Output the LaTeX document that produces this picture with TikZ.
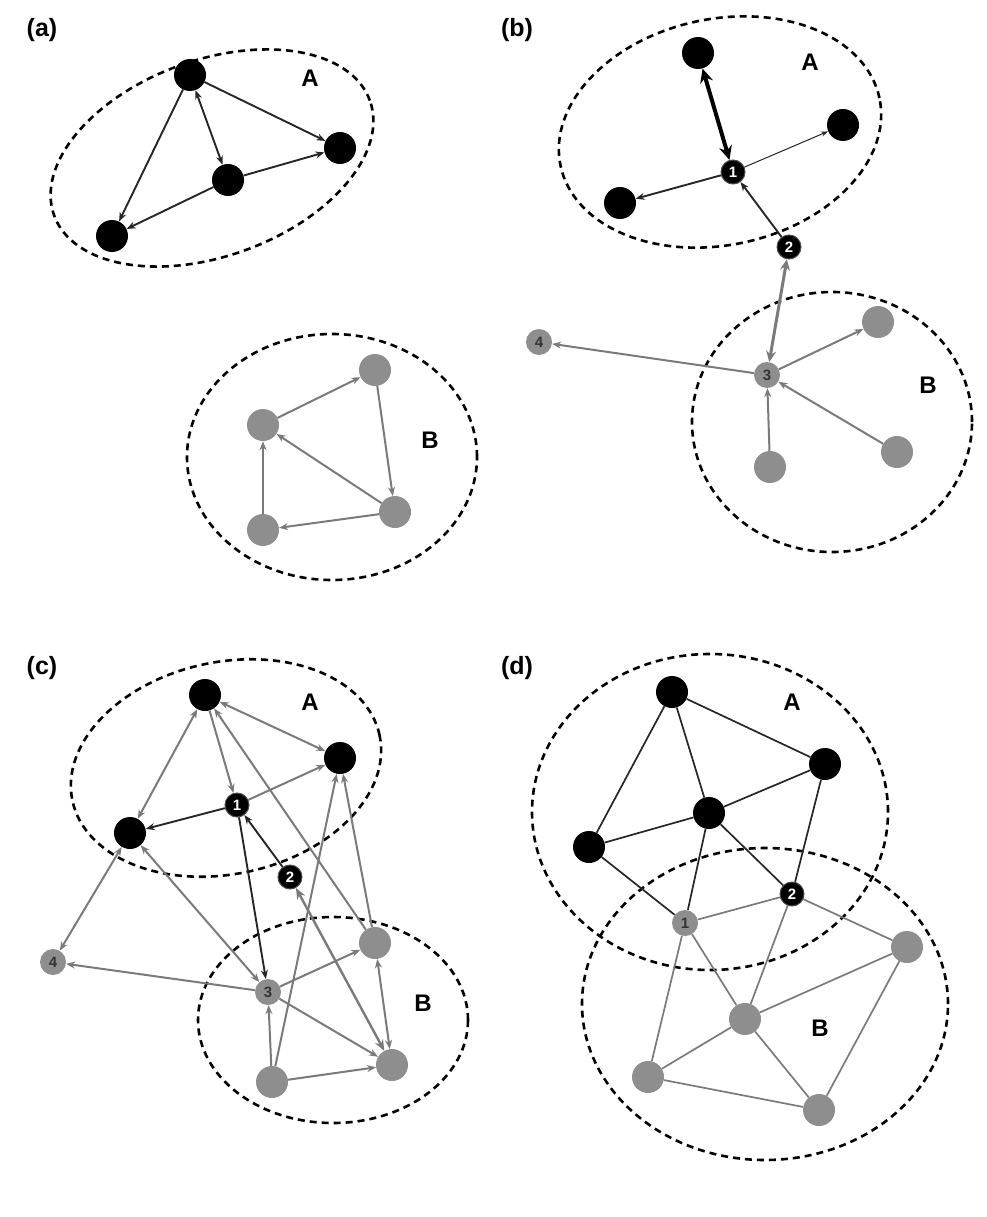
\documentclass[tikz,border=0pt]{standalone}
\usepackage{fontspec}
\setmainfont{Liberation Sans}
\usetikzlibrary{arrows.meta}
\definecolor{gn}{HTML}{8E8E8E}
\definecolor{ge}{HTML}{7A7A7A}
\begin{document}
\begin{tikzpicture}[x=1pt,y=-1pt,
 bk/.style={circle,fill=black,inner sep=0pt,minimum size=32pt},
 gy/.style={circle,fill=gn,inner sep=0pt,minimum size=32pt},
 bkn/.style={circle,fill=black,draw=black!70,line width=1pt,inner sep=0pt,minimum size=24pt,text=white,font=\bfseries\fontsize{15}{15}\selectfont},
 gyn/.style={circle,fill=gn,inner sep=0pt,minimum size=26pt,text=black!80,font=\bfseries\fontsize{15}{15}\selectfont},
 grp/.style={draw,dashed,dash pattern=on 7pt off 5pt,line width=2.6pt},
 lab/.style={font=\bfseries\fontsize{25}{25}\selectfont},
 glab/.style={font=\bfseries\fontsize{24}{24}\selectfont},
 ea/.style={line width=1.9pt,black!85,-{Stealth[length=9pt,width=7pt]}},
 eab/.style={line width=1.9pt,black!85,{Stealth[length=9pt,width=7pt]}-{Stealth[length=9pt,width=7pt]}},
 ga/.style={line width=2pt,ge,-{Stealth[length=9pt,width=7pt]}},
 gab/.style={line width=2pt,ge,{Stealth[length=9pt,width=7pt]}-{Stealth[length=9pt,width=7pt]}},
 el/.style={line width=1.7pt,black!85},
 gl/.style={line width=1.7pt,ge}]
\useasboundingbox (0,0) rectangle (986,1217);
% labels
\node[lab] (la) at (42,30) {(a)};
\node[lab] (lb) at (517,30) {(b)};
\node[lab] (lc) at (42,668) {(c)};
\node[lab] (ld) at (517,668) {(d)};
% ---------------- (a)
\draw[grp,rotate around={20:(212,158)}] (212,158) ellipse (168pt and 98pt);
\draw[grp] (332,457) ellipse (145pt and 123pt);
\node[glab] (aA) at (310,78) {A};
\node[glab] (aB) at (430,440) {B};
\node[bk] (a1) at (190,75) {};
\node[bk] (a2) at (340,148) {};
\node[bk] (a3) at (228,180) {};
\node[bk] (a4) at (112,236) {};
\draw[ea] (a1) -- (a2);
\draw[ea] (a1) -- (a4);
\draw[eab] (a1) -- (a3);
\draw[ea] (a3) -- (a2);
\draw[ea] (a3) -- (a4);
\node[gy] (b1) at (375,370) {};
\node[gy] (b2) at (263,425) {};
\node[gy] (b3) at (395,512) {};
\node[gy] (b4) at (263,530) {};
\draw[ga] (b2) -- (b1);
\draw[ga] (b1) -- (b3);
\draw[ga] (b3) -- (b2);
\draw[ga] (b3) -- (b4);
\draw[ga] (b4) -- (b2);
% ---------------- (b)
\draw[grp,rotate around={12:(720,132)}] (720,132) ellipse (163pt and 113pt);
\draw[grp] (832,422) ellipse (140pt and 130pt);
\node[glab] (bA) at (810,62) {A};
\node[glab] (bB) at (928,385) {B};
\node[bk] (c1) at (698,53) {};
\node[bk] (c2) at (843,125) {};
\node[bkn] (c3) at (733,172) {1};
\node[bk] (c4) at (620,203) {};
\node[bkn] (c5) at (789,247) {2};
\node[gyn] (c6) at (539,342) {4};
\node[gyn] (c7) at (767,375) {3};
\node[gy] (c8) at (878,322) {};
\node[gy] (c9) at (770,467) {};
\node[gy] (c10) at (897,452) {};
\draw[line width=4pt,black,{Stealth[length=14pt,width=13pt]}-{Stealth[length=14pt,width=13pt]}] (c1) -- (c3);
\draw[line width=1pt,black!85,-{Stealth[length=7pt,width=5pt]}] (c3) -- (c2);
\draw[ea] (c3) -- (c4);
\draw[ea] (c5) -- (c3);
\draw[line width=3pt,ge,{Stealth[length=11pt,width=10pt]}-{Stealth[length=11pt,width=10pt]}] (c5) -- (c7);
\draw[ga] (c7) -- (c6);
\draw[ga] (c7) -- (c8);
\draw[ga] (c9) -- (c7);
\draw[ga] (c10) -- (c7);
% ---------------- (c)
\draw[grp,rotate around={12:(226,768)}] (226,768) ellipse (157pt and 106pt);
\draw[grp] (333,1020) ellipse (135pt and 103pt);
\node[glab] (cA) at (310,702) {A};
\node[glab] (cB) at (423,1003) {B};
\node[bk] (d1) at (205,695) {};
\node[bk] (d2) at (340,758) {};
\node[bkn] (d3) at (237,805) {1};
\node[bk] (d4) at (130,833) {};
\node[bkn] (d5) at (290,877) {2};
\node[gyn] (d6) at (53,962) {4};
\node[gyn] (d7) at (268,992) {3};
\node[gy] (d8) at (375,943) {};
\node[gy] (d9) at (272,1082) {};
\node[gy] (d10) at (392,1065) {};
\draw[gab] (d1) -- (d4);
\draw[ga] (d1) -- (d3);
\draw[gab] (d1) -- (d2);
\draw[ga] (d8) -- (d1);
\draw[ea] (d3) -- (d4);
\draw[ga] (d3) -- (d2);
\draw[ea] (d3) -- (d7);
\draw[ea] (d5) -- (d3);
\draw[gab] (d4) -- (d6);
\draw[gab] (d4) -- (d7);
\draw[ga] (d7) -- (d6);
\draw[ga] (d7) -- (d8);
\draw[ga] (d7) -- (d10);
\draw[line width=2.4pt,ge,{Stealth[length=11pt,width=9pt]}-{Stealth[length=11pt,width=9pt]}] (d5) -- (d10);
\draw[ga] (d9) -- (d7);
\draw[ga] (d9) -- (d2);
\draw[ga] (d9) -- (d10);
\draw[ga] (d8) -- (d2);
\draw[gab] (d8) -- (d10);
% ---------------- (d)
\draw[grp] (710,812) ellipse (178pt and 158pt);
\draw[grp] (765,1004) ellipse (183pt and 156pt);
\node[glab] (dA) at (792,702) {A};
\node[glab] (dB) at (820,1028) {B};
\node[bk] (e1) at (672,692) {};
\node[bk] (e2) at (825,764) {};
\node[bk] (e3) at (709,813) {};
\node[bk] (e4) at (589,847) {};
\node[bkn] (e5) at (792,894) {2};
\node[gyn] (e6) at (685,923) {1};
\node[gy] (e7) at (907,947) {};
\node[gy] (e8) at (745,1019) {};
\node[gy] (e9) at (648,1077) {};
\node[gy] (e10) at (819,1110) {};
\draw[el] (e1) -- (e4);
\draw[el] (e1) -- (e3);
\draw[el] (e1) -- (e2);
\draw[el] (e2) -- (e3);
\draw[el] (e2) -- (e5);
\draw[el] (e4) -- (e3);
\draw[el] (e4) -- (e6);
\draw[el] (e3) -- (e6);
\draw[el] (e3) -- (e5);
\draw[gl] (e6) -- (e5);
\draw[gl] (e5) -- (e7);
\draw[gl] (e5) -- (e8);
\draw[gl] (e6) -- (e8);
\draw[gl] (e6) -- (e9);
\draw[gl] (e8) -- (e7);
\draw[gl] (e8) -- (e9);
\draw[gl] (e8) -- (e10);
\draw[gl] (e9) -- (e10);
\draw[gl] (e7) -- (e10);
\end{tikzpicture}
\end{document}
